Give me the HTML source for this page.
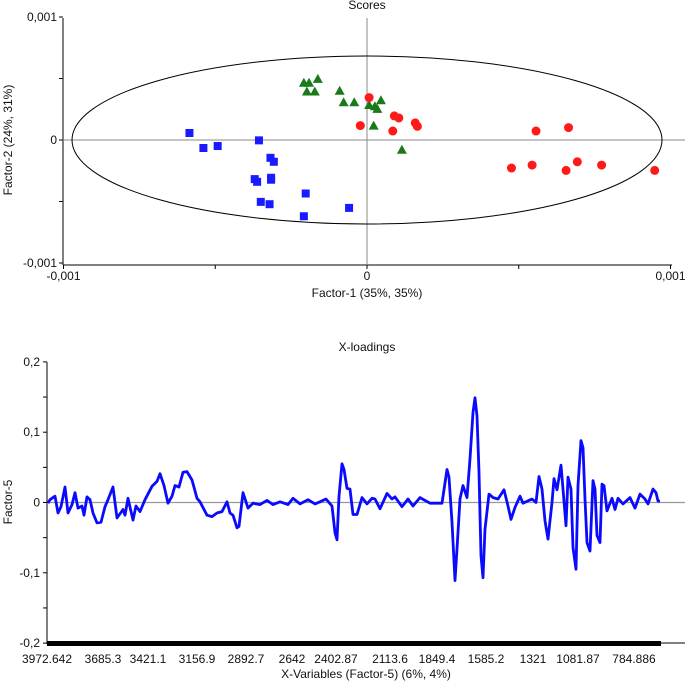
<!DOCTYPE html>
<html><head><meta charset="utf-8">
<style>
html,body{margin:0;padding:0;background:#fff;}
svg{display:block;font-family:"Liberation Sans",sans-serif;}
</style></head>
<body>
<svg id="chart" width="685" height="682" viewBox="0 0 685 682" xmlns="http://www.w3.org/2000/svg"></svg>
<script>
// ---- Scores data (units of 0.001) ----
const blueX = [-0.585,-0.539,-0.492,-0.356,-0.318,-0.307,-0.370,-0.362,-0.316,-0.316,-0.350,-0.321,-0.202,-0.208,-0.059];
const blueY = [0.057,-0.065,-0.049,-0.003,-0.145,-0.177,-0.318,-0.340,-0.307,-0.323,-0.503,-0.522,-0.435,-0.620,-0.552];
const greenX = [-0.208,-0.191,-0.162,-0.198,-0.172,-0.090,-0.077,-0.042,0.007,0.026,0.034,0.046,0.022,0.115];
const greenY = [0.465,0.465,0.497,0.394,0.394,0.400,0.307,0.307,0.285,0.274,0.253,0.323,0.117,-0.079];
const redX = [0.007,-0.022,0.090,0.105,0.085,0.159,0.166,0.557,0.664,0.476,0.544,0.656,0.693,0.773,0.948];
const redY = [0.345,0.117,0.196,0.179,0.073,0.139,0.111,0.073,0.101,-0.228,-0.204,-0.247,-0.177,-0.204,-0.247];
const scoreTicksX = ["-0,001","0","0,001"];
const scoreTicksY = ["0,001","0","-0,001"];
// ---- Loadings data ----
const varIdx = [0,2,7,10,13,17,20,24,27,30,34,36,39,42,45,49,53,57,60,65,69,75,77,80,85,88,92,97,104,109,112,116,120,124,127,131,135,139,144,149,152,159,164,169,174,179,182,185,189,191,195,200,205,212,219,225,232,240,245,252,260,267,272,278,284,287,289,291,294,296,299,302,305,309,314,319,324,327,332,339,344,347,354,360,365,372,382,394,399,401,404,407,409,412,415,419,422,425,427,429,431,433,435,437,441,445,450,456,460,463,467,472,475,484,488,491,494,497,500,504,506,509,513,515,518,520,523,525,528,530,533,535,537,539,542,545,547,549,552,554,556,559,564,567,570,575,582,587,592,597,600,605,608,610,612];
const loading = [-0.001,0.004,0.009,-0.015,-0.006,0.022,-0.015,-0.003,0.014,-0.008,-0.005,-0.018,0.008,0.004,-0.015,-0.029,-0.028,-0.006,0.004,0.022,-0.022,-0.010,-0.018,0.006,-0.025,-0.005,-0.013,0.004,0.023,0.030,0.041,0.024,-0.001,0.009,0.024,0.022,0.043,0.044,0.032,0.006,0.001,-0.018,-0.020,-0.015,-0.013,0.001,-0.015,-0.018,-0.036,-0.034,0.014,-0.008,-0.001,-0.003,0.003,-0.003,0.001,-0.003,0.006,-0.002,0.004,-0.002,0.001,0.005,-0.005,-0.043,-0.053,0.009,0.055,0.047,0.020,0.019,-0.017,-0.017,0.007,-0.002,0.006,0.005,-0.009,0.013,0.005,0.008,-0.006,0.005,-0.005,0.007,-0.001,-0.001,0.047,0.036,-0.028,-0.111,-0.066,0.005,0.024,0.007,0.062,0.128,0.149,0.123,0.043,-0.076,-0.107,-0.038,0.012,0.007,0.005,0.018,-0.005,-0.024,-0.007,0.009,-0.001,0.005,0.000,0.037,0.019,-0.026,-0.052,0.000,0.034,0.018,0.053,0.019,-0.033,0.036,0.019,-0.064,-0.095,0.024,0.088,0.078,0.005,-0.057,-0.069,0.031,0.019,-0.047,-0.057,0.026,0.024,-0.012,0.006,-0.010,0.006,-0.002,0.007,-0.008,0.012,0.005,-0.002,0.019,0.014,0.002,0.002];
const loadTicksY = ["0,2","0,1","0","-0,1","-0,2"];
const loadTickValsY = [0.2,0.1,0,-0.1,-0.2];
const xVarLabels = ["3972.642","3685.3","3421.1","3156.9","2892.7","2642","2402.87","2113.6","1849.4","1585.2","1321","1081.87","784.886"];
const xVarLabelIdx = [-1,55,100,149,198,244,288,342,389,438,485,530,586];

const NS="http://www.w3.org/2000/svg";
const svg=document.getElementById('chart');
function mk(tag,attrs,parent){const e=document.createElementNS(NS,tag);for(const k in attrs)e.setAttribute(k,attrs[k]);(parent||svg).appendChild(e);return e;}
function txt(s,attrs,parent){const e=mk('text',attrs,parent);e.textContent=s;return e;}

// ===== Scores =====
const sx=v=>367+v*303.5;
const sy=v=>140-v*123;
const g1=mk('g',{});


let t=txt('Scores',{x:367,y:9,'font-size':12,'text-anchor':'middle',fill:'#111'},g1);


let a=mk('line',{x1:63,y1:18,x2:63,y2:265,stroke:'#000','stroke-width':1},g1);


a=mk('line',{x1:63,y1:265,x2:672,y2:265,stroke:'#000','stroke-width':1},g1);


[-1,-0.5,0,0.5,1].forEach(v=>{mk('line',{x1:sx(v),y1:265,x2:sx(v),y2:269,stroke:'#000'},g1);});
[1,0.5,0,-0.5,-1].forEach(v=>{mk('line',{x1:59,y1:sy(v),x2:63,y2:sy(v),stroke:'#000'},g1);});
scoreTicksX.forEach((s,i)=>{const e=txt(s,{x:sx(i-1),y:280,'font-size':12,'text-anchor':'middle',fill:'#111'},g1);

});
scoreTicksY.forEach((s,i)=>{const e=txt(s,{x:57,y:sy(1-i)+4,'font-size':12,'text-anchor':'end',fill:'#111'},g1);

});
mk('line',{x1:367,y1:18,x2:367,y2:265,stroke:'#888'},g1);
mk('line',{x1:63,y1:140,x2:685,y2:140,stroke:'#888'},g1);
let el=mk('ellipse',{cx:367,cy:140,rx:295,ry:84,fill:'none',stroke:'#000','stroke-width':1},g1);


t=txt('Factor-1 (35%, 35%)',{x:367,y:297,'font-size':12,'text-anchor':'middle',fill:'#111'},g1);


t=txt('Factor-2 (24%, 31%)',{x:0,y:0,'font-size':12,'text-anchor':'middle',fill:'#111',transform:'translate(12,140) rotate(-90)'},g1);


blueX.forEach((v,i)=>{const p=mk('rect',{x:sx(v)-4,y:sy(blueY[i])-4,width:8,height:8,fill:'#1a1aff'},g1);

});
greenX.forEach((v,i)=>{const cx=sx(v),cy=sy(greenY[i]);const p=mk('polygon',{points:`${cx},${cy-5} ${cx+5},${cy+4} ${cx-5},${cy+4}`,fill:'#1a7a1a'},g1);

});
redX.forEach((v,i)=>{const p=mk('circle',{cx:sx(v),cy:sy(redY[i]),r:4.5,fill:'#ff1a1a'},g1);

});

// ===== Loadings =====
const lx=i=>48+i;
const ly=v=>502.5-v*703;
const g2=mk('g',{});


t=txt('X-loadings',{x:367,y:351,'font-size':12,'text-anchor':'middle',fill:'#111'},g2);


a=mk('line',{x1:47,y1:362,x2:47,y2:644,stroke:'#000'},g2);


[0.2,0.15,0.1,0.05,0,-0.05,-0.1,-0.15,-0.2].forEach(v=>mk('line',{x1:43,y1:ly(v),x2:47,y2:ly(v),stroke:'#000'},g2));
loadTicksY.forEach((s,i)=>{const e=txt(s,{x:40,y:ly(loadTickValsY[i])+4,'font-size':12,'text-anchor':'end',fill:'#111'},g2);

});
mk('line',{x1:47,y1:ly(0),x2:685,y2:ly(0),stroke:'#999','stroke-width':1.2},g2);
a=mk('rect',{x:47,y:641,width:614,height:5,fill:'#000'},g2);


mk('line',{x1:661,y1:643,x2:685,y2:643,stroke:'#000'},g2);
xVarLabels.forEach((s,i)=>{const e=txt(s,{x:lx(xVarLabelIdx[i]),y:663,'font-size':12,'text-anchor':'middle',fill:'#111'},g2);

});
t=txt('X-Variables (Factor-5) (6%, 4%)',{x:366,y:678,'font-size':12,'text-anchor':'middle',fill:'#111'},g2);


t=txt('Factor-5',{x:0,y:0,'font-size':12,'text-anchor':'middle',fill:'#111',transform:'translate(12,502) rotate(-90)'},g2);


const d=varIdx.map((v,i)=>(i?'L':'M')+lx(v).toFixed(1)+','+ly(loading[i]).toFixed(1)).join(' ');
const line=mk('path',{d:d,fill:'none',stroke:'#0a0aff','stroke-width':2.8,'stroke-linejoin':'round'},g2);


</script>
</body></html>
